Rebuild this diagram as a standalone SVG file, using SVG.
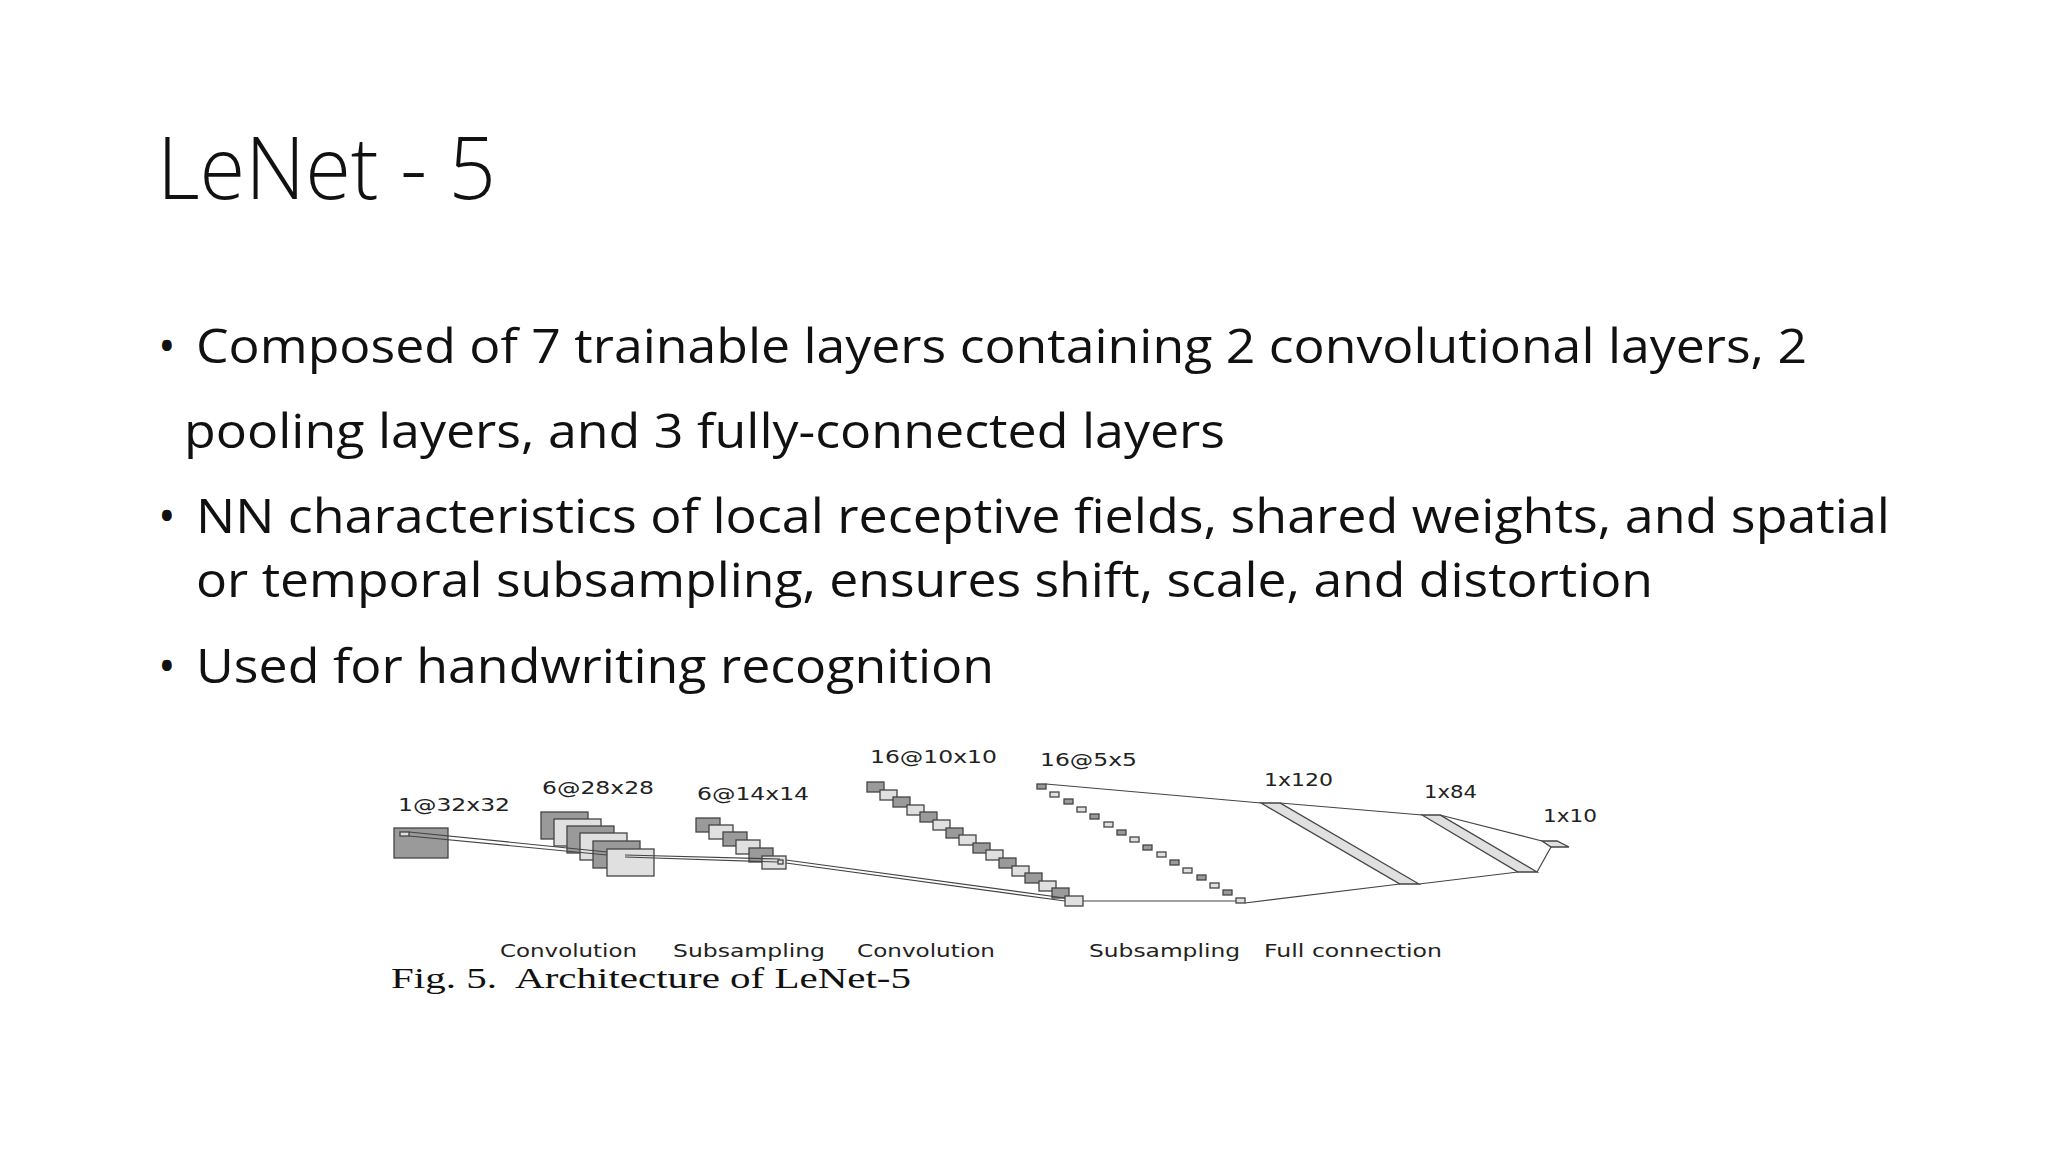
<svg xmlns="http://www.w3.org/2000/svg" width="2048" height="1152" viewBox="0 0 2048 1152">
<style>
.t{font-family:"Open Sans","Liberation Sans",sans-serif;fill:#111}
.b{font-size:47px}
.l{font-family:"DejaVu Sans",sans-serif;font-size:17px;fill:#222}
.d{fill:#9a9a9a;stroke:#444;stroke-width:1.3}
.w{fill:#e0e0e0;stroke:#444;stroke-width:1.3}
.ln{fill:none;stroke:#444;stroke-width:1.2}
</style>
<rect width="2048" height="1152" fill="#fff"/>
<g id="title"><text class="t" x="157" y="199" font-size="86" font-weight="300" textLength="339" lengthAdjust="spacingAndGlyphs">LeNet - 5</text></g>
<g id="bullets">
<text class="t b" x="158" y="363">•</text>
<text class="t b" x="196" y="363" textLength="1611" lengthAdjust="spacingAndGlyphs">Composed of 7 trainable layers containing 2 convolutional layers, 2</text>
<text class="t b" x="184" y="448" textLength="1041" lengthAdjust="spacingAndGlyphs">pooling layers, and 3 fully-connected layers</text>
<text class="t b" x="158" y="533">•</text>
<text class="t b" x="196" y="533" textLength="1694" lengthAdjust="spacingAndGlyphs">NN characteristics of local receptive fields, shared weights, and spatial</text>
<text class="t b" x="196" y="597" textLength="1457" lengthAdjust="spacingAndGlyphs">or temporal subsampling, ensures shift, scale, and distortion</text>
<text class="t b" x="158" y="683">•</text>
<text class="t b" x="196" y="683" textLength="798" lengthAdjust="spacingAndGlyphs">Used for handwriting recognition</text>
</g>
<g id="input"><rect class="d" x="394" y="828" width="54" height="30"/><rect class="w" x="400" y="832" width="9" height="4"/></g>
<g id="c1">
<rect class="d" x="541" y="812" width="47" height="27"/>
<rect class="w" x="554" y="819" width="47" height="27"/>
<rect class="d" x="567" y="826" width="47" height="27"/>
<rect class="w" x="580" y="833" width="47" height="27"/>
<rect class="d" x="593" y="841" width="47" height="27"/>
<rect class="w" x="607" y="849" width="47" height="27"/>
</g>
<g id="s2">
<rect class="d" x="696" y="818" width="24" height="14"/>
<rect class="w" x="709" y="825" width="24" height="14"/>
<rect class="d" x="723" y="832" width="24" height="14"/>
<rect class="w" x="736" y="840" width="24" height="14"/>
<rect class="d" x="749" y="848" width="24" height="14"/>
<rect class="w" x="762" y="856" width="24" height="13"/>
<rect class="w" x="778" y="860" width="5" height="4"/>
</g>
<g id="c3">
<rect class="d" x="867" y="782" width="17" height="10"/><rect class="w" x="880" y="790" width="17" height="10"/>
<rect class="d" x="893" y="797" width="17" height="10"/><rect class="w" x="907" y="805" width="17" height="10"/>
<rect class="d" x="920" y="812" width="17" height="10"/><rect class="w" x="933" y="820" width="17" height="10"/>
<rect class="d" x="946" y="828" width="17" height="10"/><rect class="w" x="959" y="835" width="17" height="10"/>
<rect class="d" x="973" y="843" width="17" height="10"/><rect class="w" x="986" y="850" width="17" height="10"/>
<rect class="d" x="999" y="858" width="17" height="10"/><rect class="w" x="1012" y="866" width="17" height="10"/>
<rect class="d" x="1025" y="873" width="17" height="10"/><rect class="w" x="1039" y="881" width="17" height="10"/>
<rect class="d" x="1052" y="888" width="17" height="10"/><rect class="w" x="1065" y="896" width="18" height="10"/>
</g>
<g id="s4">
<rect class="d" x="1037" y="784" width="9" height="5"/><rect class="w" x="1050" y="792" width="9" height="5"/>
<rect class="d" x="1064" y="799" width="9" height="5"/><rect class="w" x="1077" y="807" width="9" height="5"/>
<rect class="d" x="1090" y="814" width="9" height="5"/><rect class="w" x="1104" y="822" width="9" height="5"/>
<rect class="d" x="1117" y="830" width="9" height="5"/><rect class="w" x="1130" y="837" width="9" height="5"/>
<rect class="d" x="1143" y="845" width="9" height="5"/><rect class="w" x="1157" y="852" width="9" height="5"/>
<rect class="d" x="1170" y="860" width="9" height="5"/><rect class="w" x="1183" y="868" width="9" height="5"/>
<rect class="d" x="1197" y="875" width="9" height="5"/><rect class="w" x="1210" y="883" width="9" height="5"/>
<rect class="d" x="1223" y="890" width="9" height="5"/><rect class="w" x="1236" y="898" width="9" height="5"/>
</g>
<g id="f5"><polygon class="w" points="1261,803 1280,803 1419,884 1400,884"/></g>
<g id="f6"><polygon class="w" points="1422,815 1440,815 1537,872 1518,872"/></g>
<g id="out"><polygon class="w" points="1542,841 1557,841 1569,847 1551,847"/></g>
<g id="connectors">
<path class="ln" d="M409,832 L607,852 M409,836 L607,855 M625,855 L780,859 M625,857 L778,862 M786,860 L1065,898 M786,863 L1065,901 M1083,901 L1236,901 M1046,784 L1261,803 M1280,803 L1422,815 M1440,815 L1542,841 M1245,903 L1400,884 M1419,884 L1518,872 M1537,872 L1551,847"/>
</g>
<g id="labels">
<text class="l" x="398" y="811" textLength="112" lengthAdjust="spacingAndGlyphs">1@32x32</text>
<text class="l" x="542" y="794" textLength="112" lengthAdjust="spacingAndGlyphs">6@28x28</text>
<text class="l" x="697" y="800" textLength="112" lengthAdjust="spacingAndGlyphs">6@14x14</text>
<text class="l" x="870" y="763" textLength="127" lengthAdjust="spacingAndGlyphs">16@10x10</text>
<text class="l" x="1040" y="766" textLength="97" lengthAdjust="spacingAndGlyphs">16@5x5</text>
<text class="l" x="1264" y="786" textLength="69" lengthAdjust="spacingAndGlyphs">1x120</text>
<text class="l" x="1424" y="798" textLength="53" lengthAdjust="spacingAndGlyphs">1x84</text>
<text class="l" x="1543" y="822" textLength="54" lengthAdjust="spacingAndGlyphs">1x10</text>
<text class="l" x="500" y="957" textLength="137" lengthAdjust="spacingAndGlyphs">Convolution</text>
<text class="l" x="673" y="957" textLength="152" lengthAdjust="spacingAndGlyphs">Subsampling</text>
<text class="l" x="857" y="957" textLength="138" lengthAdjust="spacingAndGlyphs">Convolution</text>
<text class="l" x="1089" y="957" textLength="151" lengthAdjust="spacingAndGlyphs">Subsampling</text>
<text class="l" x="1264" y="957" textLength="178" lengthAdjust="spacingAndGlyphs">Full connection</text>
<text x="391" y="988" font-family="Liberation Serif,serif" font-size="30" fill="#111" textLength="520" lengthAdjust="spacingAndGlyphs" xml:space="preserve">Fig. 5.  Architecture of LeNet-5</text>
</g>
</svg>
